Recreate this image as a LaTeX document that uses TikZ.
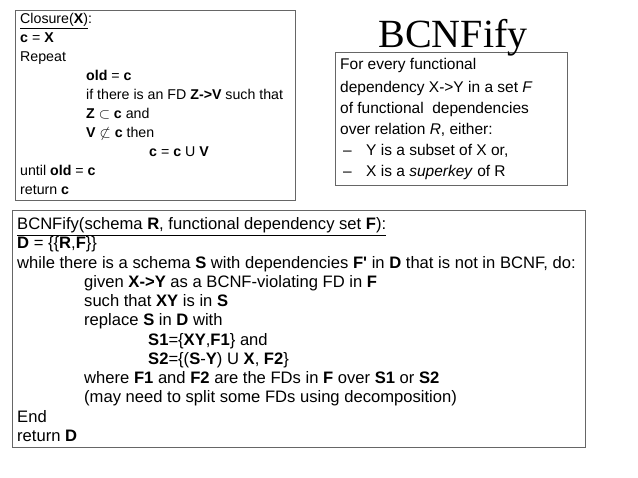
\documentclass[tikz,border=0pt]{standalone}
\usepackage{fontspec}
\setmainfont{Liberation Sans}
\newfontfamily\seriffont{Liberation Serif}
\begin{document}
\begin{tikzpicture}[x=1pt,y=-1pt,
  bx/.style={draw=gray!80!black,line width=0.9pt},
  s/.style={anchor=base west,inner sep=0pt,font=\fontsize{14.2}{16}\selectfont},
  b/.style={anchor=base west,inner sep=0pt,font=\fontsize{16.6}{18}\selectfont},
  r/.style={anchor=base west,inner sep=0pt,font=\fontsize{15.5}{18}\selectfont}]
\useasboundingbox (0,0) rectangle (638,478);
\draw[bx] (15,10) rectangle (295,200);
\draw[bx] (335,52) rectangle (567,185);
\draw[bx] (12,210) rectangle (585,447);
\node[anchor=base,inner sep=0pt,font=\seriffont\fontsize{40}{44}\selectfont] (title) at (453,48) {BCNFify};
% closure
\node[s] (c1) at (20,24) {\underline{Closure(\textbf{X})}:};
\node[s] (c2) at (20,43) {\textbf{c} = \textbf{X}};
\node[s] (c3) at (20,62) {Repeat};
\node[s] (c4) at (86,81) {\textbf{old} = \textbf{c}};
\node[s] (c5) at (86,100) {if there is an FD \textbf{Z->V} such that};
\node[s] (c6) at (86,119) {\textbf{Z} $\subset$ \textbf{c} and};
\node[s] (c7) at (86,138) {\textbf{V} $\not\subset$ \textbf{c} then};
\node[s] (c8) at (149,157) {\textbf{c} = \textbf{c} U \textbf{V}};
\node[s] (c9) at (20,176) {until \textbf{old} = \textbf{c}};
\node[s] (c10) at (20,195) {return \textbf{c}};
% right
\node[r] (r1) at (340,70) {For every functional};
\node[r] (r2) at (340,93) {dependency X->Y in a set \textit{F}};
\node[r] (r3) at (340,114) {of functional\ \ dependencies};
\node[r] (r4) at (340,135) {over relation \textit{R}, either:};
\node[r] (r5d) at (343,156) {–};
\node[r] (r5) at (366,156) {Y is a subset of X or,};
\node[r] (r6d) at (343,177) {–};
\node[r] (r6) at (366,177) {X is a \textit{superkey} of R};
% bottom
\node[b] (b1) at (17,230) {\underline{BCNFify(schema \textbf{R}, functional dependency set \textbf{F}):}};
\node[b] (b2) at (17,249) {\textbf{D} = \{\{\textbf{R},\textbf{F}\}\}};
\node[b] (b3) at (17,269) {while there is a schema \textbf{S} with dependencies \textbf{F\textquotesingle} in \textbf{D} that is not in BCNF, do:};
\node[b] (b4) at (84,288) {given \textbf{X->Y} as a BCNF-violating FD in \textbf{F}};
\node[b] (b5) at (84,307) {such that \textbf{XY} is in \textbf{S}};
\node[b] (b6) at (84,326) {replace \textbf{S} in \textbf{D} with};
\node[b] (b7) at (148,346) {\textbf{S1}=\{\textbf{XY},\textbf{F1}\} and};
\node[b] (b8) at (148,365) {\textbf{S2}=\{(\textbf{S}-\textbf{Y}) U \textbf{X}, \textbf{F2}\}};
\node[b] (b9) at (84,384) {where \textbf{F1} and \textbf{F2} are the FDs in \textbf{F} over \textbf{S1} or \textbf{S2}};
\node[b] (b10) at (84,403) {(may need to split some FDs using decomposition)};
\node[b] (b11) at (17,423) {End};
\node[b] (b12) at (17,442) {return \textbf{D}};
\end{tikzpicture}
\end{document}
